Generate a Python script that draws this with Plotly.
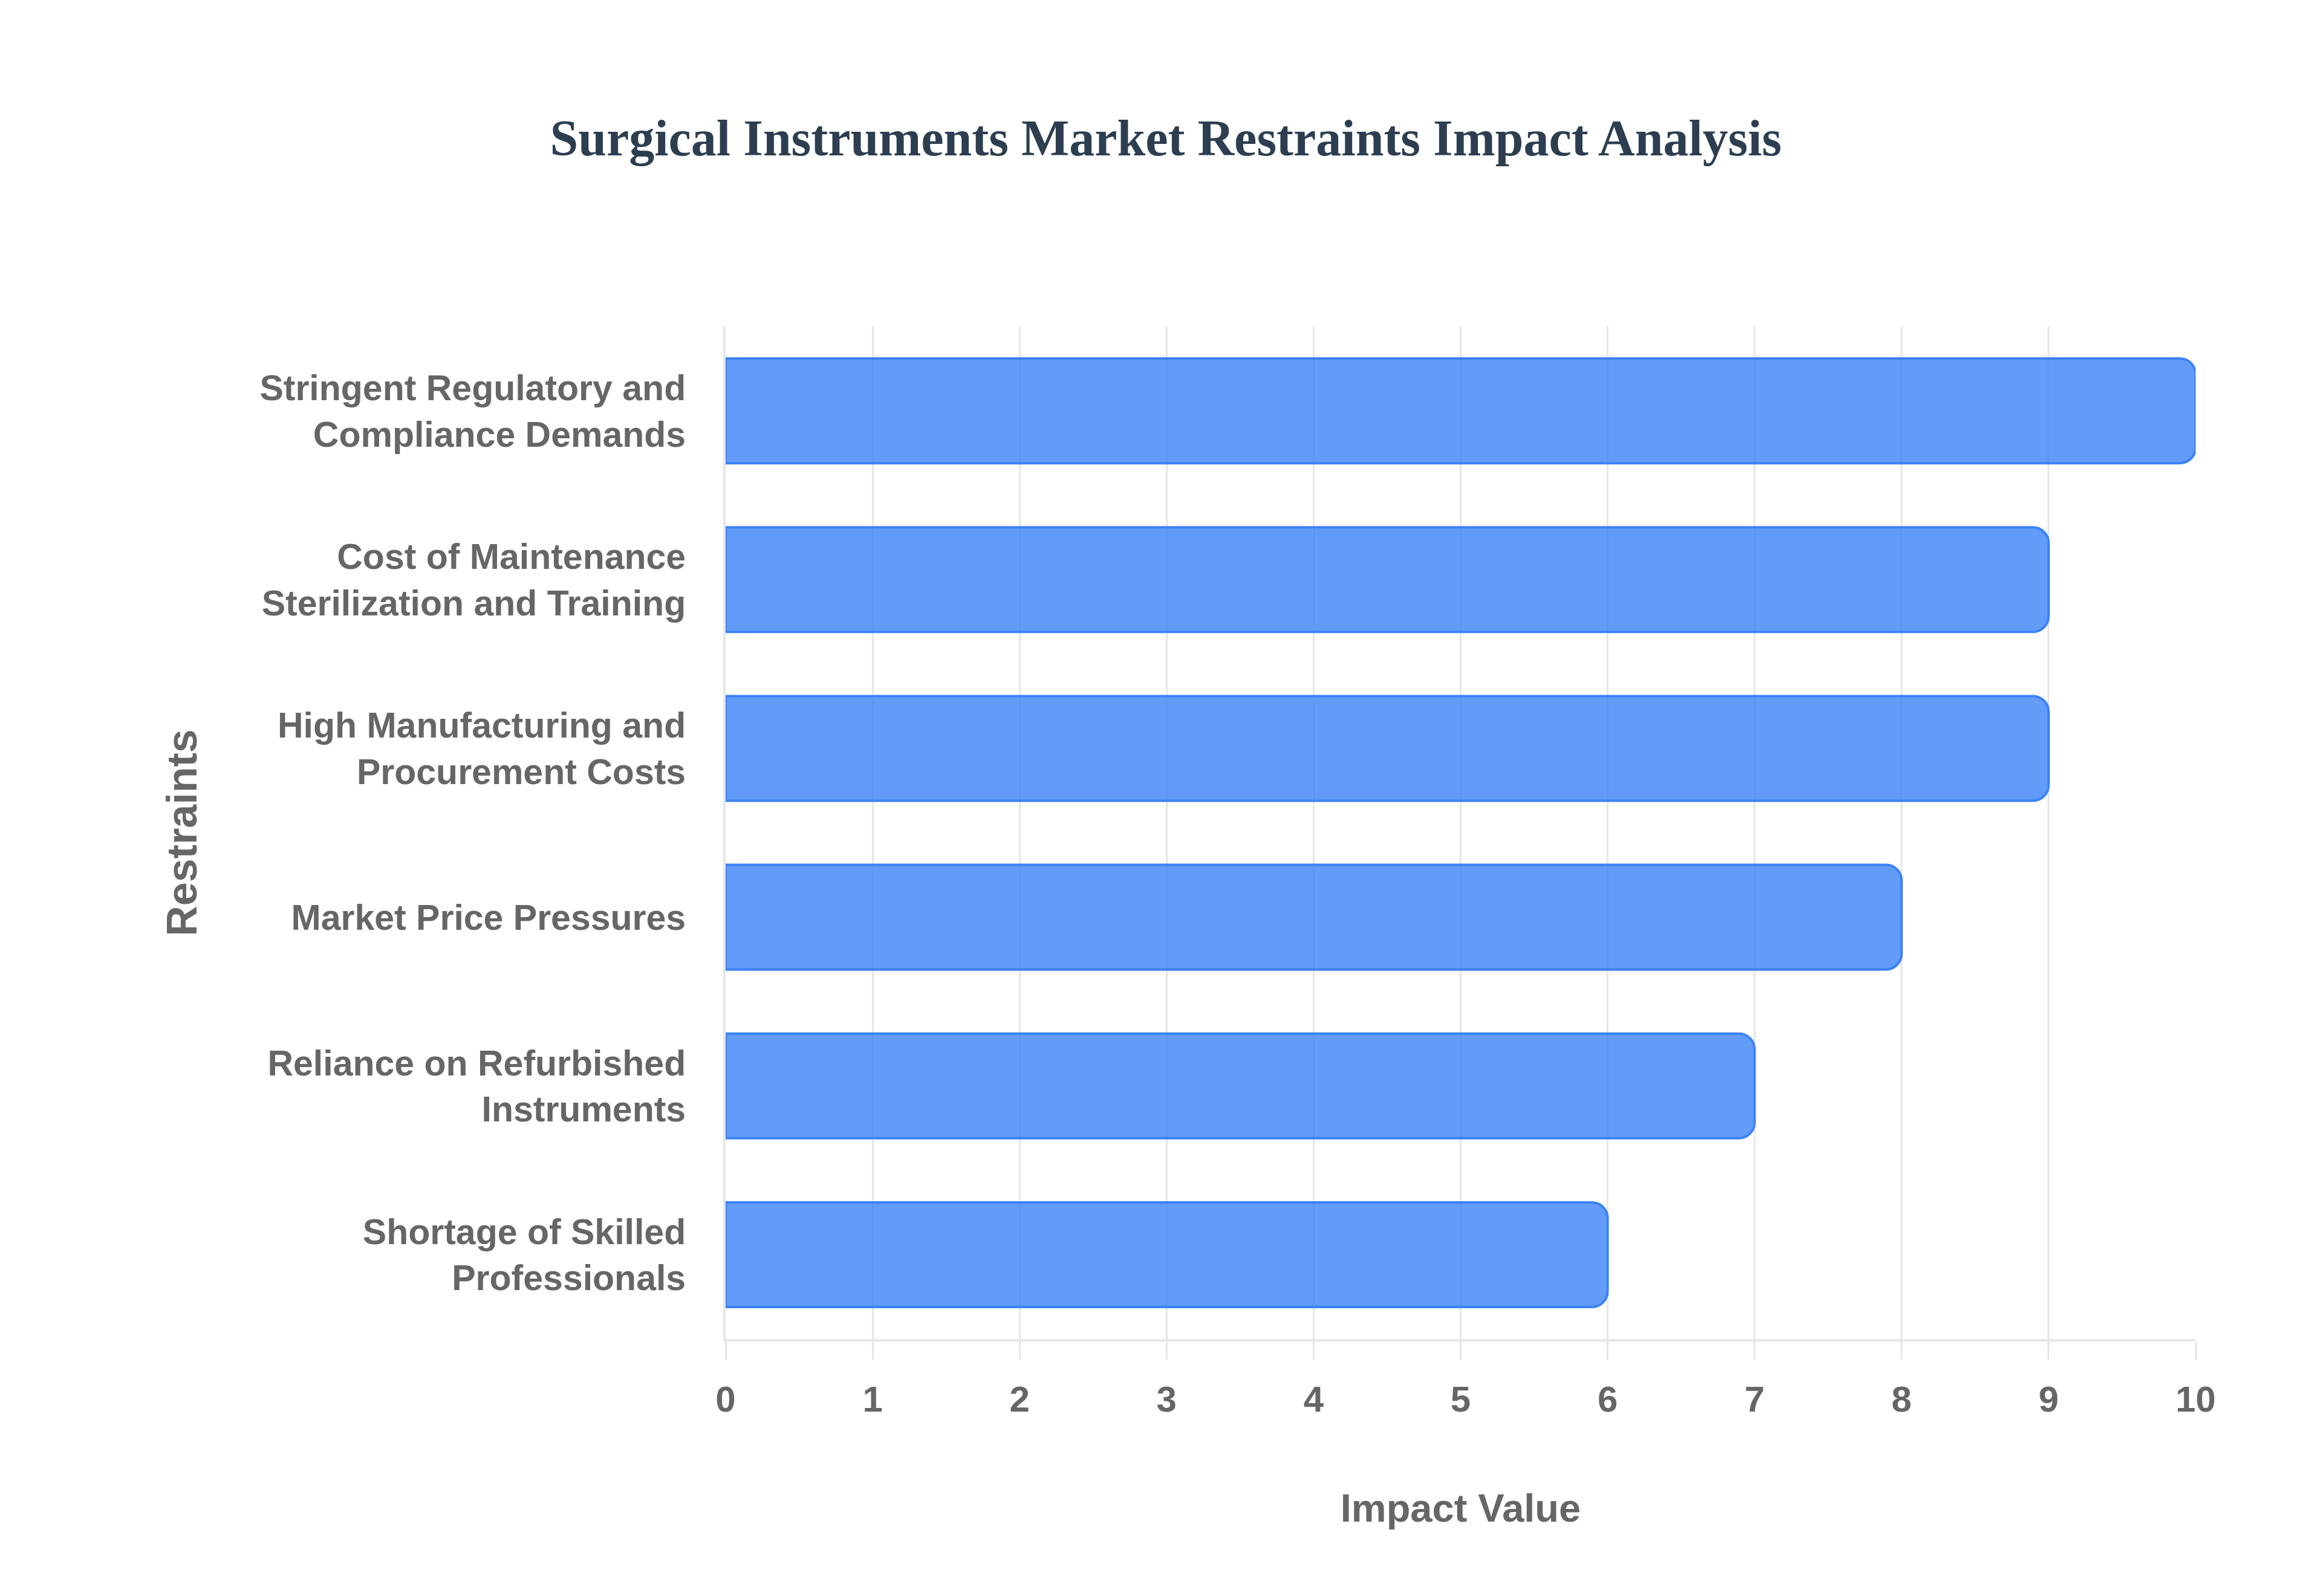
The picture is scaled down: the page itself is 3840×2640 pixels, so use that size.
import plotly.graph_objects as go

restricoes = [
    "Stringent Regulatory and<br>Compliance Demands",
    "Cost of Maintenance<br>Sterilization and Training",
    "High Manufacturing and<br>Procurement Costs",
    "Market Price Pressures",
    "Reliance on Refurbished<br>Instruments",
    "Shortage of Skilled<br>Professionals",
]

impacto = [10, 9, 9, 8, 7, 6]

ticks_x = [0, 1, 2, 3, 4, 5, 6, 7, 8, 9, 10]

cor_texto = "#666666"
cor_grade = "#e6e6e6"

fig = go.Figure(go.Bar(
    x=impacto,
    y=restricoes,
    orientation="h",
    marker=dict(
        color="rgba(59,130,246,0.8)",
        line=dict(color="#3b82f6", width=4),
        cornerradius=26,
    ),
    width=0.62,
    hoverinfo="x+y",
))

fig.update_layout(
    width=3840,
    height=2640,
    paper_bgcolor="white",
    plot_bgcolor="white",
    margin=dict(l=1192, r=217, t=532, b=433),
    showlegend=False,
    title=dict(
        text="<b>Surgical Instruments Market Restraints Impact Analysis</b>",
        font=dict(family="Liberation Serif", size=84, color="#2c3e50"),
        x=0.5,
        xanchor="center",
        xref="container",
        y=1 - 220 / 2640,
        yanchor="middle",
        yref="container",
    ),
    font=dict(family="Liberation Sans", color=cor_texto),
)

fig.update_xaxes(
    range=[0, 10],
    tickvals=ticks_x,
    ticks="outside",
    ticklen=30,
    tickwidth=3,
    tickcolor=cor_grade,
    ticklabelstandoff=14,
    tickfont=dict(family="Liberation Sans", size=60, color=cor_texto, weight="bold"),
    showgrid=True,
    gridcolor=cor_grade,
    gridwidth=3,
    zeroline=False,
    showline=True,
    linecolor=cor_grade,
    linewidth=4,
    title=dict(
        text="<b>Impact Value</b>",
        font=dict(family="Liberation Sans", size=65, color=cor_texto),
        standoff=125,
    ),
)

fig.update_yaxes(
    autorange="reversed",
    ticks="outside",
    ticklen=50,
    tickcolor="rgba(0,0,0,0)",
    tickfont=dict(family="Liberation Sans", size=59, color=cor_texto, weight="bold"),
    showgrid=False,
    showline=True,
    linecolor=cor_grade,
    linewidth=4,
    title=dict(
        text="<b>Restraints</b>",
        font=dict(family="Liberation Sans", size=70, color=cor_texto),
        standoff=82,
    ),
)

fig.write_html("out.html")
